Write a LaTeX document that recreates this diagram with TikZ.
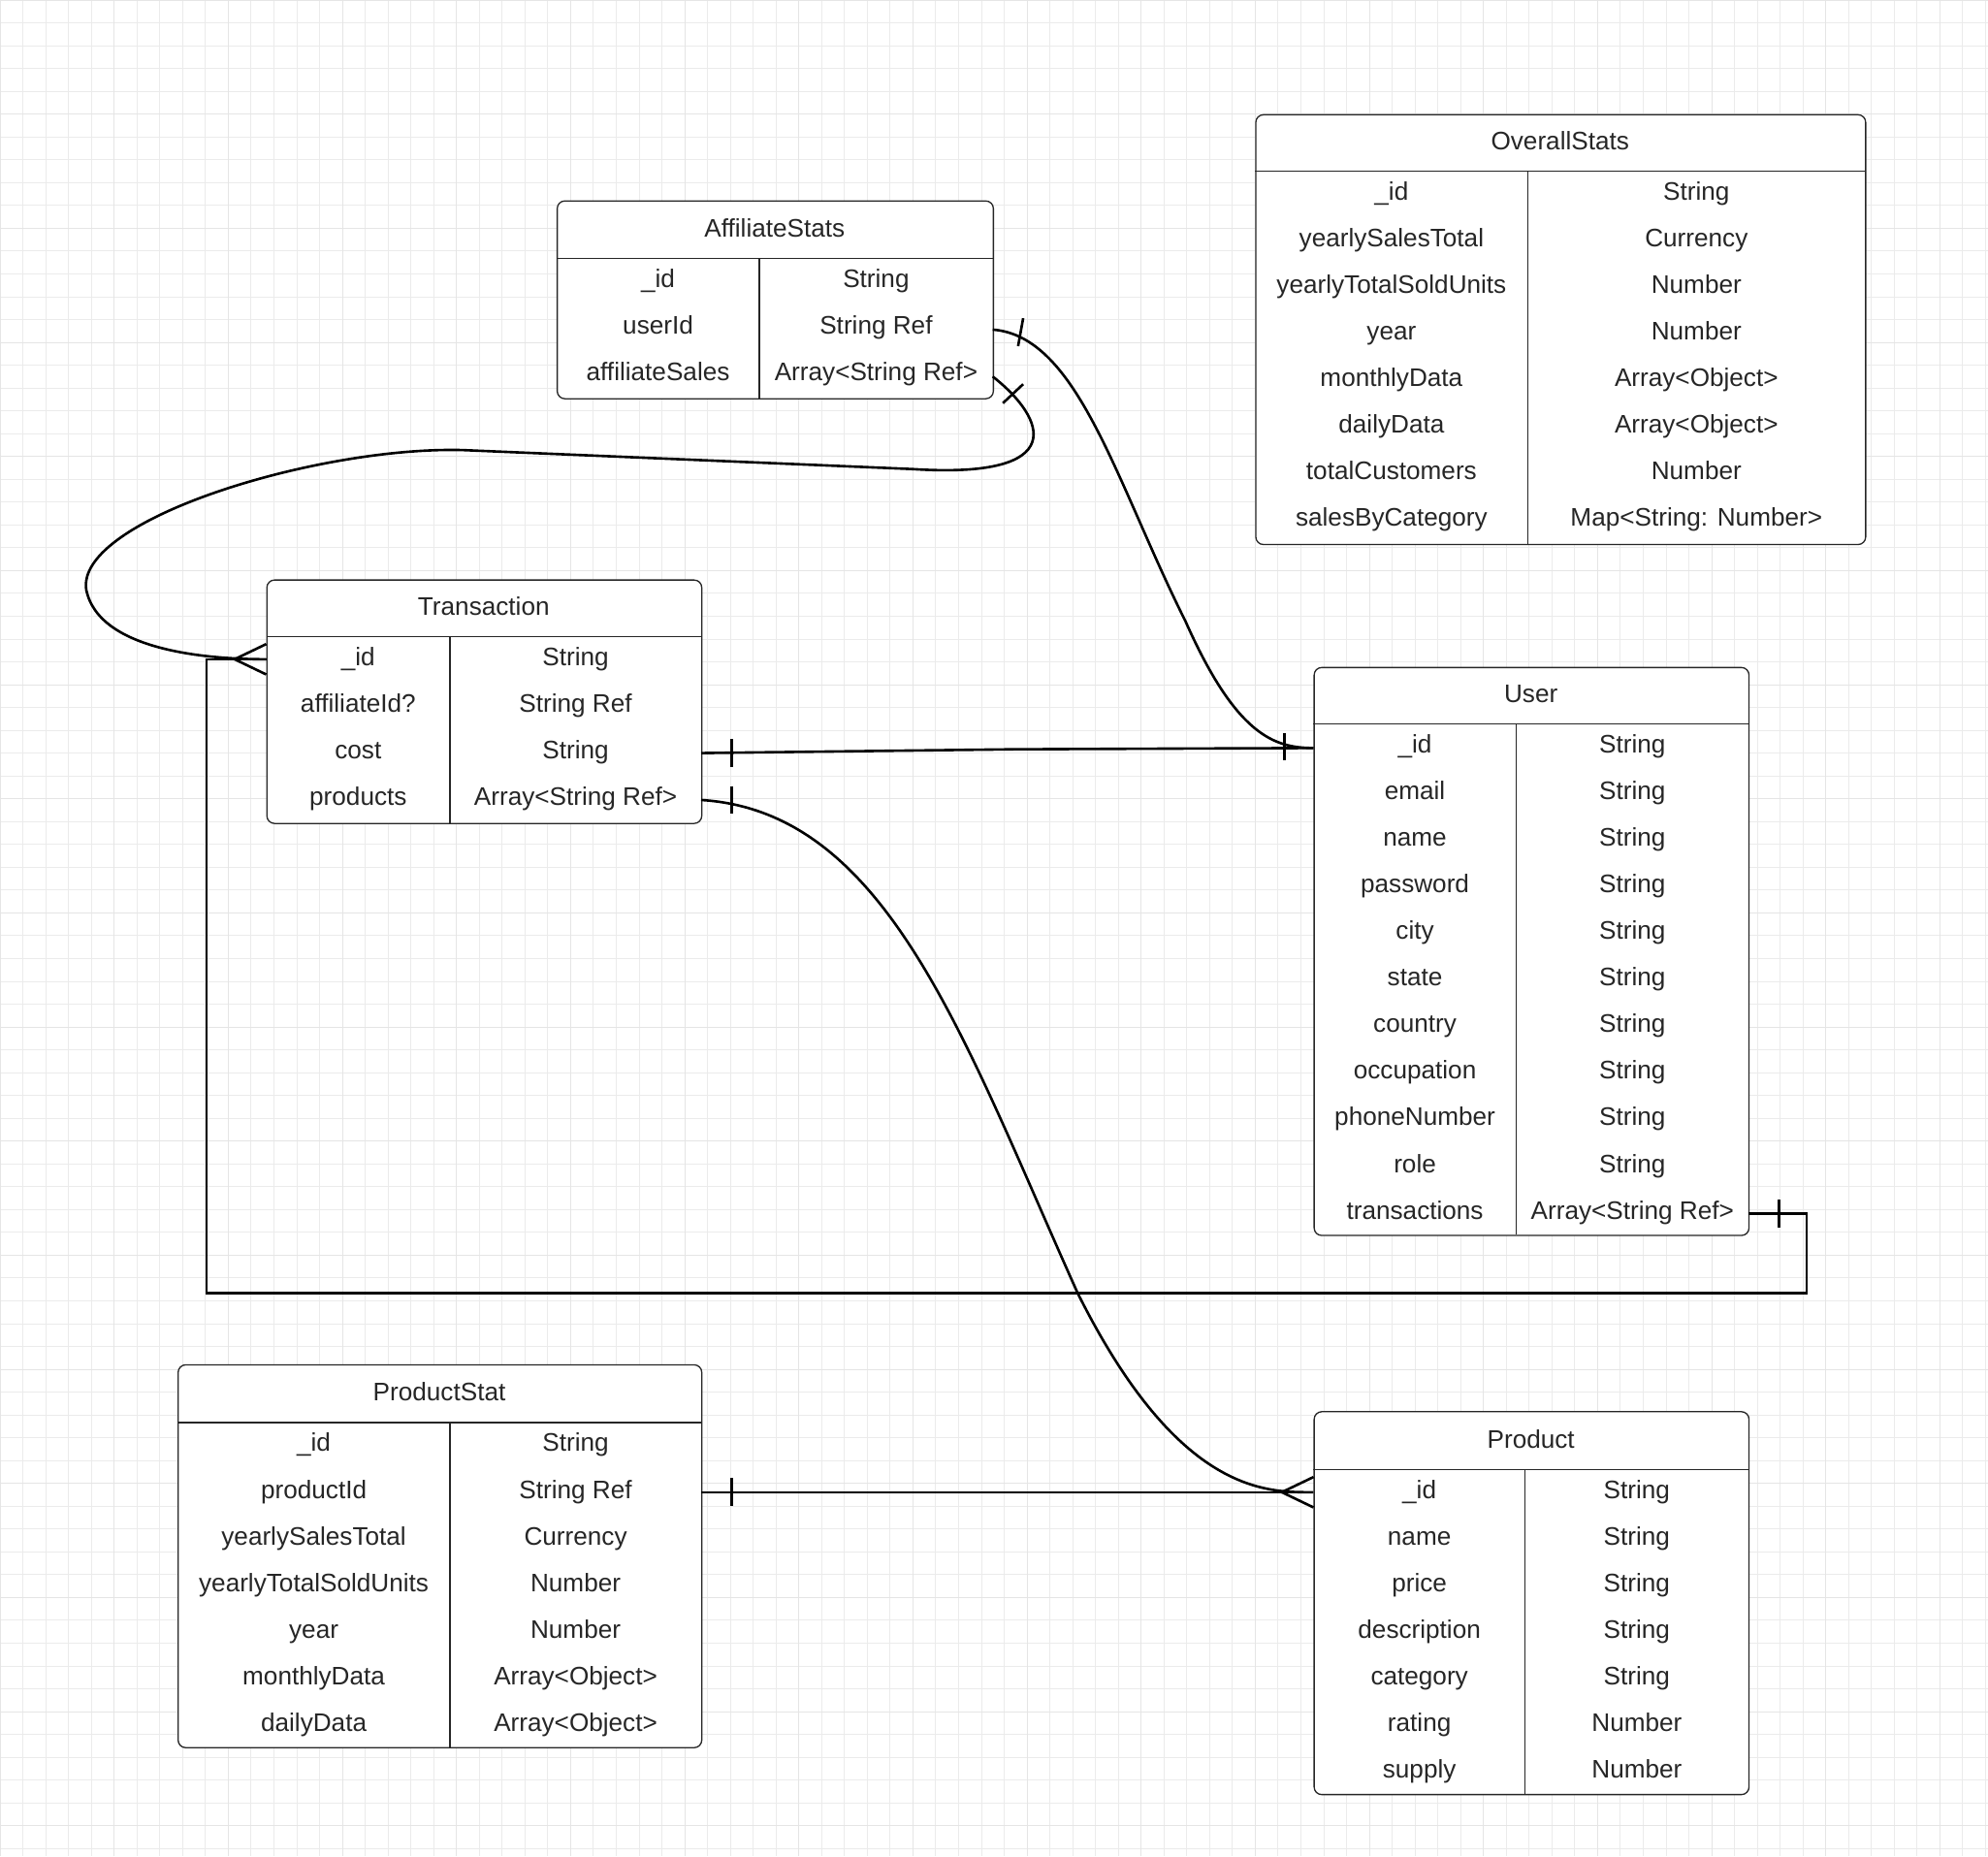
\documentclass[tikz,border=0pt]{standalone}
\usepackage{fontspec}
\setmainfont{Liberation Sans}
\begin{document}
\begin{tikzpicture}[x=1pt,y=-1pt,
  cell/.style={font=\fontsize{20}{24}\selectfont,inner sep=0pt,text height=14pt,text depth=4pt,text=black!85},
  frame/.style={draw=black!85,line width=1pt,rounded corners=6pt,inner sep=0pt,anchor=north west},
  conn/.style={line width=2pt,black}]
\fill[white] (0,0) rectangle (1568,1464);
\useasboundingbox (0,0) rectangle (1568,1464);
\foreach \g in {0,18,...,1568} {\draw[black!8,line width=0.6pt] (\g,0) -- (\g,1464);}
\foreach \g in {0,18,...,1464} {\draw[black!8,line width=0.6pt] (0,\g) -- (1568,\g);}
\foreach \g in {0,90,...,1568} {\draw[black!10,line width=0.7pt] (\g,0) -- (\g,1464);}
\foreach \g in {0,90,...,1464} {\draw[black!10,line width=0.7pt] (0,\g) -- (1568,\g);}
\newcommand\ertable[9]{%
  \pgfmathsetmacro\ww{#4-#2}\pgfmathsetmacro\hh{#5-#3}%
  \node[frame,fill=white,minimum width=\ww pt,minimum height=\hh pt] (#1) at (#2,#3) {};
  \node[cell] (#1-title) at ({(#2+#4)/2},{(#3+#6)/2+1}) {#8};
  \draw[black!85,line width=1pt] (#2,#6) -- (#4,#6) (#7,#6) -- (#7,#5);
  \foreach \a/\b [count=\i from 0] in {#9} {
    \node[cell] (#1-\i-a) at ({(#2+#7)/2},{#6+18+\i*36.75}) {\a};
    \node[cell] (#1-\i-b) at ({(#7+#4)/2},{#6+18+\i*36.75}) {\b};
  }}
\ertable{aff}{439}{158}{783}{314}{204}{599}{AffiliateStats}{\_id/String,userId/String Ref,affiliateSales/Array<String Ref>}
\ertable{ov}{990}{90}{1471}{429}{135}{1205}{OverallStats}{\_id/String,yearlySalesTotal/Currency,yearlyTotalSoldUnits/Number,year/Number,monthlyData/Array<Object>,dailyData/Array<Object>,totalCustomers/Number,salesByCategory/Map<String: Number>}
\ertable{tr}{210}{457}{553}{649}{502}{355}{Transaction}{\_id/String,affiliateId?/String Ref,cost/String,products/Array<String Ref>}
\ertable{us}{1036}{526}{1379}{974}{571}{1196}{User}{\_id/String,email/String,name/String,password/String,city/String,state/String,country/String,occupation/String,phoneNumber/String,role/String,transactions/Array<String Ref>}
\ertable{ps}{140}{1076}{553}{1378}{1122}{355}{ProductStat}{\_id/String,productId/String Ref,yearlySalesTotal/Currency,yearlyTotalSoldUnits/Number,year/Number,monthlyData/Array<Object>,dailyData/Array<Object>}
\ertable{pr}{1036}{1113}{1379}{1415}{1159}{1203}{Product}{\_id/String,name/String,price/String,description/String,category/String,rating/Number,supply/Number}
\coordinate (a1) at (783,260);
\coordinate (u0) at (1036,590);
\coordinate (a2) at (783,297);
\coordinate (t0) at (210,520);
\coordinate (tc) at (553,594);
\coordinate (tp) at (553,631);
\coordinate (p0) at (1036,1177);
\coordinate (ut) at (1379,957);
\coordinate (psr) at (553,1177);
\draw[conn] (a1) .. controls (850,265) and (880,380) .. (935,490) .. controls (975,580) and (1005,590) .. (u0);
\draw[conn] (807,251) -- (803,273);
\draw[conn] (1013,578) -- (1013,600);
\draw[conn] (a2) .. controls (825,330) and (845,378) .. (720,370) -- (365,355)
  .. controls (250,352) and (60,410) .. (68,465) .. controls (78,515) and (170,520) .. (t0);
\draw[conn] (791,318) -- (807,303);
\draw[conn] (tc) -- (800,591) -- (u0);
\draw[conn] (577,583) -- (577,605);
\draw[conn] (tp) .. controls (700,640) and (760,820) .. (850,1020) .. controls (930,1180) and (1000,1177) .. (p0);
\draw[conn] (577,620) -- (577,642);
\draw[conn] (ut) -- (1425,957) -- (1425,1020) -- (163,1020) -- (163,520) -- (t0);
\draw[conn] (1403,946) -- (1403,968);
\draw[conn] (psr) -- (p0);
\draw[conn] (577,1166) -- (577,1188);
\draw[conn] (210,508) -- (185,520) -- (210,532);
\draw[conn] (1036,1165) -- (1011,1177) -- (1036,1189);
\end{tikzpicture}
\end{document}
